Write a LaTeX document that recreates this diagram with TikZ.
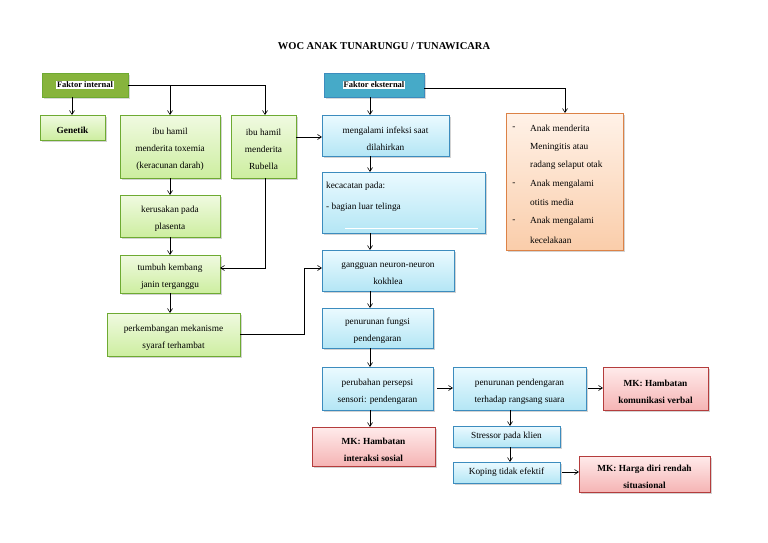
\documentclass[tikz,border=0pt]{standalone}
\usepackage{fontspec}
\setmainfont{Liberation Serif}
\usetikzlibrary{arrows.meta,shadows}
\definecolor{gtop}{RGB}{240,250,225}
\definecolor{gbot}{RGB}{205,238,160}
\definecolor{gdr}{RGB}{110,170,50}
\definecolor{ctop}{RGB}{235,250,255}
\definecolor{cbot}{RGB}{180,230,245}
\definecolor{cdr}{RGB}{60,140,190}
\definecolor{rtop}{RGB}{255,235,235}
\definecolor{rbot}{RGB}{245,180,180}
\definecolor{rdr}{RGB}{180,60,60}
\definecolor{otop}{RGB}{255,242,232}
\definecolor{obot}{RGB}{250,205,170}
\definecolor{odr}{RGB}{220,130,70}
\begin{document}
\begin{tikzpicture}[x=1pt,y=-1pt,
  bx/.style={draw=#1,line width=0.6pt,drop shadow={opacity=0.35,shadow xshift=1.5pt,shadow yshift=-1.5pt}},
  gbox/.style={bx=gdr,top color=gtop,bottom color=gbot},
  cbox/.style={bx=cdr,top color=ctop,bottom color=cbot},
  rbox/.style={bx=rdr,top color=rtop,bottom color=rbot},
  obox/.style={bx=odr,top color=otop,bottom color=obot},
  ar/.style={-{Straight Barb[length=4pt,width=5pt]},line width=0.6pt},
  ln/.style={line width=0.8pt},
  txt/.style={align=center,font=\fontsize{9.3}{17}\selectfont,inner sep=0pt,yshift=-3pt},
  btxt/.style={txt,font=\bfseries\fontsize{9.3}{17}\selectfont}]
\useasboundingbox (0,0) rectangle (768,543);
\node[font=\bfseries\fontsize{10.5}{12}\selectfont] (title) at (384,46) {WOC ANAK TUNARUNGU / TUNAWICARA};
% Faktor boxes
\draw[fill={rgb,255:red,135;green,180;blue,60},draw=gdr,drop shadow={opacity=0.3,shadow xshift=1.5pt,shadow yshift=-1.5pt}] (42,73) rectangle (128,97);
\node[fill=white,inner sep=1pt,font=\bfseries\fontsize{8.5}{10}\selectfont] (fi) at (85,85) {Faktor internal};
\draw[fill={rgb,255:red,70;green,170;blue,200},draw=cdr,drop shadow={opacity=0.3,shadow xshift=1.5pt,shadow yshift=-1.5pt}] (324,73) rectangle (424,97);
\node[fill=white,inner sep=1pt,font=\bfseries\fontsize{8.5}{10}\selectfont] (fe) at (374,85) {Faktor eksternal};
% left column
\path[gbox] (40,115) rectangle (105,140); \node[btxt] (gen) at (72.5,127.5) {Genetik};
\path[gbox] (120,115) rectangle (220,178); \node[txt] (tox) at (170,146.5) {ibu hamil\\menderita toxemia\\(keracunan darah)};
\path[gbox] (231,115) rectangle (296,178); \node[txt] (rub) at (263.5,146.5) {ibu hamil\\menderita\\Rubella};
\path[gbox] (120,195) rectangle (220,237); \node[txt] (ker) at (170,216) {kerusakan pada\\plasenta};
\path[gbox] (120,255) rectangle (220,293); \node[txt] (tum) at (170,274) {tumbuh kembang\\janin terganggu};
\path[gbox] (107,313) rectangle (240,356); \node[txt] (per) at (173.5,334.5) {perkembangan mekanisme\\syaraf terhambat};
% right column
\path[cbox] (322,115) rectangle (449,156); \node[txt] (inf) at (385.5,135.5) {mengalami infeksi saat\\dilahirkan};
\path[cbox] (322,172) rectangle (485,233);
\node[txt,align=left,anchor=west] (kec1) at (326,183) {kecacatan pada:};
\node[txt,align=left,anchor=west] (kec2) at (326,204) {- bagian luar telinga};
\draw[white,line width=1pt] (345,228) -- (478,228);
\path[obox] (506,113) rectangle (623,250);
\foreach \yy/\t [count=\i] in {125/Anak menderita,144/Meningitis atau,162/radang selaput otak,181/Anak mengalami,199/otitis media,218/Anak mengalami,237/kecelakaan}
  \node[txt,anchor=west,yshift=0pt] (o\i) at (530,\yy) {\t};
\foreach \yy in {125,181,218} \node[txt,yshift=0pt] at (514,\yy) {-};
\path[cbox] (322,250) rectangle (454,291); \node[txt] (gan) at (388,270.5) {gangguan neuron-neuron\\kokhlea};
\path[cbox] (322,308) rectangle (433,348); \node[txt] (pfu) at (377.5,328) {penurunan fungsi\\pendengaran};
\path[cbox] (322,367) rectangle (433,410); \node[txt] (pps) at (377.5,388.5) {perubahan persepsi\\sensori: pendengaran};
\path[rbox] (312,427) rectangle (435,466); \node[btxt] (mk1) at (373.5,446.5) {MK: Hambatan\\interaksi sosial};
\path[cbox] (453,367) rectangle (586,410); \node[txt] (ppd) at (519.5,388.5) {penurunan pendengaran\\terhadap rangsang suara};
\path[rbox] (603,367) rectangle (708,410); \node[btxt] (mk2) at (655.5,388.5) {MK: Hambatan\\komunikasi verbal};
\path[cbox] (453,426) rectangle (560,447); \node[txt,yshift=3pt] (str) at (506.5,436.5) {Stressor pada klien};
\path[cbox] (453,462) rectangle (560,483); \node[txt,yshift=3pt] (kop) at (506.5,472.5) {Koping tidak efektif};
\path[rbox] (579,456) rectangle (710,492); \node[btxt] (mk3) at (644.5,474) {MK: Harga diri rendah\\situasional};
% connectors
\coordinate (fiR) at (128,85); \coordinate (j1) at (265,85);
\draw[ln] (fiR) -- (j1);
\draw[ar] (72,97) -- (72,115);
\draw[ar] (170,85) -- (170,115);
\draw[ar] (j1) -- (265,115);
\draw[ar] (170,178) -- (170,195);
\draw[ar] (170,237) -- (170,255);
\draw[ar] (170,293) -- (170,313);
\draw[ar] (265,178) |- (220,268);
\draw[ar] (296,137) -- (322,137);
\draw[ar] (240,334) -| (304,268) -- (322,268);
\draw[ar] (370,97) -- (370,115);
\draw[ln] (424,88) -| (565,104); \draw[ar] (565,100) -- (565,113);
\draw[ar] (370,156) -- (370,172);
\draw[ar] (370,233) -- (370,250);
\draw[ar] (370,291) -- (370,308);
\draw[ar] (370,348) -- (370,367);
\draw[ar] (370,410) -- (370,427);
\draw[ar] (437,388) -- (453,388);
\draw[ar] (588,388) -- (603,388);
\draw[ar] (510,410) -- (510,426);
\draw[ar] (510,447) -- (510,462);
\draw[ar] (562,472) -- (579,472);
\end{tikzpicture}
\end{document}
